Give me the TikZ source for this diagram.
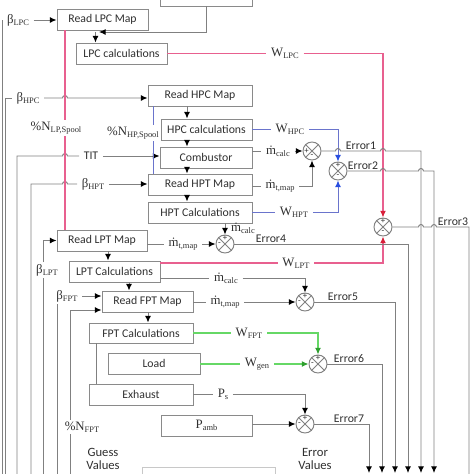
\documentclass[tikz,border=0pt]{standalone}
\usepackage{fontspec}
\setmainfont{Carlito}
\newfontfamily\symfam{Liberation Serif}
\usetikzlibrary{arrows.meta}
\definecolor{linegray}{HTML}{808080}
\definecolor{boxgray}{HTML}{8A8A8A}
\definecolor{txt}{HTML}{303030}
\definecolor{pinkl}{HTML}{E8608F}
\definecolor{reda}{HTML}{D8203A}
\definecolor{bluel}{HTML}{6A74CC}
\definecolor{bluea}{HTML}{2A4FE0}
\definecolor{greenl}{HTML}{66D866}
\definecolor{greena}{HTML}{2E9E2E}
\definecolor{faint}{HTML}{C8C8C8}
\newcommand\bxfont{\fontsize{6.7}{7.5}\selectfont}
\newcommand\symf{\symfam\fontsize{7.3}{8}\selectfont}
\newcommand\sbx[1]{\raisebox{-1.1pt}{\fontsize{4.8}{5}\selectfont #1}}
\begin{document}
\begin{tikzpicture}[x=0.02cm,y=-0.02cm,
  bx/.style 2 args={draw=boxgray, line width=0.55pt, minimum width=#1*0.02cm, minimum height=#2*0.02cm, inner sep=0pt, font=\bxfont, text=txt},
  sumj/.style={circle, draw=linegray, line width=0.55pt, fill=white, minimum size=18*0.02cm, inner sep=0pt},
  sym/.style={font=\symf, text=txt, inner xsep=2.5pt, inner ysep=1pt},
  elab/.style={font=\fontsize{6.7}{7.5}\selectfont, text=txt, inner sep=0.6pt, anchor=south},
  sgnst/.style={font=\fontsize{5}{5}\selectfont, text=txt, inner sep=0pt},
  gline/.style={draw=linegray, line width=0.55pt},
  pline/.style={draw=pinkl, line width=0.7pt},
  bline/.style={draw=bluel, line width=0.55pt},
  grline/.style={draw=greenl, line width=0.65pt},
  garr/.style={-{Latex[length=3.8pt,width=3.4pt,color=black]}},
  parr/.style={-{Latex[length=3.8pt,width=3.4pt,color=reda]}},
  barr/.style={-{Latex[length=3.8pt,width=3.4pt,color=bluea]}},
  grarr/.style={-{Latex[length=3.8pt,width=3.4pt,color=greena]}}]
\useasboundingbox (0,0) rectangle (474,474);
% ---------- boxes
\node[bx={92}{22}] (topb) at (206,-5) {};
\node[bx={91}{21}] (rlpc) at (102.5,19.5) {Read LPC Map};
\node[bx={91}{21}] (lpcc) at (121.5,53.5) {LPC calculations};
\node[bx={104}{21}] (rhpc) at (200,95.5) {Read HPC Map};
\node[bx={91}{21}] (hpcc) at (206.5,129.5) {HPC calculations};
\node[bx={92}{21}] (comb) at (206,157.5) {Combustor};
\node[bx={104}{21}] (rhpt) at (200,184.5) {Read HPT Map};
\node[bx={104}{21}] (hptc) at (200,212.5) {HPT Calculations};
\node[bx={90}{21}] (rlpt) at (102,240.5) {Read LPT Map};
\node[bx={91}{21}] (lptc) at (114.5,271.5) {LPT Calculations};
\node[bx={91}{21}] (rfpt) at (147.5,301.5) {Read FPT Map};
\node[bx={104}{20}] (fptc) at (141,333) {FPT Calculations};
\node[bx={92}{21}] (load) at (154,363.5) {Load};
\node[bx={104}{21}] (exh) at (141,394.5) {Exhaust};
\node[bx={91}{21}, font=\symf] (pamb) at (206.5,425.5) {P\sbx{amb}};
\node[draw=faint, line width=0.5pt, minimum width=133*0.02cm, minimum height=30*0.02cm, inner sep=0pt, anchor=north west] (nrbox) at (142,467) {};
% ---------- summing junctions
\node[sumj] (s1) at (312,151) {};
\node[sumj] (s2) at (338,171) {};
\node[sumj] (s3) at (383,227) {};
\node[sumj] (s4) at (225,244) {};
\node[sumj] (s5) at (305,302) {};
\node[sumj] (s6) at (318,364) {};
\node[sumj] (s7) at (305,424) {};
\foreach \s in {s1,s2,s3,s4,s5,s6,s7}
  \draw[gline] (\s.north east) -- (\s.south west) (\s.north west) -- (\s.south east);
\node[sgnst] (s1p) at ([xshift=-3.1pt]s1.center) {+};
\node[sgnst] (s1m) at ([yshift=-3.1pt]s1.center) {-};
\node[sgnst] (s2p) at ([yshift=3.1pt]s2.center) {+};
\node[sgnst] (s2m) at ([yshift=-3.1pt]s2.center) {-};
\node[sgnst] (s3p) at ([yshift=3.1pt]s3.center) {+};
\node[sgnst] (s3m) at ([yshift=-3.1pt]s3.center) {-};
\foreach \s in {s4,s5,s6,s7}{
  \node[sgnst] (\s p) at ([yshift=3.1pt]\s.center) {+};
  \node[sgnst] (\s m) at ([xshift=-3.1pt]\s.center) {-};
}
% ---------- labels
\node[sym] (blpc) at (18,20) {β\sbx{LPC}};
\node[sym] (bhpc) at (28,98) {β\sbx{HPC}};
\node[sym] (nlp) at (56,128) {\%N\sbx{LP,Spool}};
\node[sym] (nhp) at (133,133) {\%N\sbx{HP,Spool}};
\node[sym, font=\bxfont] (tit) at (91,156) {TIT};
\node[sym] (bhpt) at (93,184) {β\sbx{HPT}};
\node[sym] (blpt) at (47,270) {β\sbx{LPT}};
\node[sym] (bfpt) at (67,296) {β\sbx{FPT}};
\node[sym] (nfpt) at (82,427) {\%N\sbx{FPT}};
\node[sym] (wlpc) at (285,53.5) {W\sbx{LPC}};
\node[sym] (whpc) at (290,129.5) {W\sbx{HPC}};
\node[sym] (mc1) at (278,151) {ṁ\sbx{calc}};
\node[sym] (mt1) at (280,186) {ṁ\sbx{t,map}};
\node[sym] (whpt) at (294,212.5) {W\sbx{HPT}};
\node[sym] (mc4) at (243,228) {ṁ\sbx{calc}};
\node[sym] (mt4) at (183,244) {ṁ\sbx{t,map}};
\node[sym] (wlpt) at (296,263) {W\sbx{LPT}};
\node[sym] (mc5) at (226,278) {ṁ\sbx{calc}};
\node[sym] (mt5) at (225,302) {ṁ\sbx{t,map}};
\node[sym] (wfpt) at (249,333) {W\sbx{FPT}};
\node[sym] (wgen) at (257,364) {W\sbx{gen}};
\node[sym] (ps) at (223,394.5) {P\sbx{s}};
\node[elab] (err1) at (361,151) {Error1};
\node[elab] (err2) at (363,171) {Error2};
\node[elab] (err3) at (453,227) {Error3};
\node[elab] (err4) at (271,244) {Error4};
\node[elab] (err5) at (343,302) {Error5};
\node[elab] (err6) at (349,364) {Error6};
\node[elab] (err7) at (349,424) {Error7};
\node[font=\fontsize{7.2}{7.4}\selectfont, text=txt, align=center, inner sep=0pt] (guess) at (103,459) {Guess\\Values};
\node[font=\fontsize{7.2}{7.4}\selectfont, text=txt, align=center, inner sep=0pt] (errv) at (315,459) {Error\\Values};
% ---------- free ends
\coordinate (g1) at (2.7,480);
\coordinate (g2) at (5.7,480);
\coordinate (g3) at (17,480);
\coordinate (g4) at (31,480);
\coordinate (g5) at (43,480);
\coordinate (g6) at (57,480);
\coordinate (g7) at (70,480);
\coordinate (e7) at (369,473);
\coordinate (e6) at (382,473);
\coordinate (e5) at (395,473);
\coordinate (e4) at (408,473);
\coordinate (e1) at (421,473);
\coordinate (e2) at (434,473);
\coordinate (e3) at (469,480);
% ---------- top box to LPC calculations
\draw[gline,garr] (topb.south) -- (206,32) -- (99,32);
\draw[gline,garr] (95.5,32) -- (95.5,0 |- lpcc.north);
% ---------- guess value inputs
\draw[gline] (g1) -- (2.7,20) -- (blpc.west);
\draw[gline,garr] (blpc.east) -- (rlpc.west |- blpc.east);
\draw[gline] (g2) -- (5.7,98) -- (bhpc.west);
\draw[gline,garr] (bhpc.east) -- (62.5,98) arc[start angle=180,end angle=0,radius=1.42pt] -- (rhpc.west |- bhpc.east);
\draw[gline] (g3) -- (17,156) -- (62.5,156) arc[start angle=180,end angle=0,radius=1.42pt] -- (tit.west);
\draw[gline,garr] (tit.east) -- (comb.west |- tit.east);
\draw[gline] (g4) -- (31,184) -- (62.5,184) arc[start angle=180,end angle=0,radius=1.42pt] -- (bhpt.west);
\draw[gline,garr] (bhpt.east) -- (rhpt.west |- bhpt.east);
\draw[gline] (g5) -- (43,0 |- blpt.south);
\draw[gline,garr] (43,0 |- blpt.north) |- (rlpt.west);
\draw[gline] (g6) -- (57,0 |- bfpt.south);
\draw[gline,garr] (bfpt.east) -- (rfpt.west |- bfpt.east);
\draw[gline] (g7) -- (70,0 |- nfpt.south);
\draw[gline,garr] (70,0 |- nfpt.north) -- (70,310) -- (rfpt.west |- 70,310);
% ---------- spool speeds
\draw[pline] (65,0 |- rlpc.south) -- (65,0 |- nlp.north);
\draw[pline] (65,0 |- nlp.south) -- (65,0 |- rlpt.north);
\draw[bline] (153,0 |- rhpc.south) -- (153,0 |- nhp.north);
\draw[bline] (153,0 |- nhp.south) -- (153,0 |- rhpt.north);
% ---------- chain arrows
\foreach \a/\b in {rhpc/hpcc, hpcc/comb, comb/rhpt, rhpt/hptc}
  \draw[gline,garr] (187,0 |- \a.south) -- (187,0 |- \b.north);
\draw[gline,garr] (108,0 |- rlpt.south) -- (108,0 |- lptc.north);
\draw[gline,garr] (129,0 |- lptc.south) -- (129,0 |- rfpt.north);
\draw[gline,garr] (148,0 |- rfpt.south) -- (148,0 |- fptc.north);
\draw[gline] (96,0 |- fptc.south) -- (96,0 |- exh.north);
% ---------- signals into junctions
\draw[gline] (comb.east |- mc1.west) -- (mc1.west);
\draw[gline,garr] (mc1.east) -- (s1.west);
\draw[gline] (rhpt.east |- mt1.west) -- (mt1.west);
\draw[gline,garr] (mt1.east) -| (s1.south);
\draw[bline] (hpcc.east) -- (whpc.west);
\draw[bline,barr] (whpc.east) -| (s2.north);
\draw[bline] (hptc.east) -- (whpt.west);
\draw[bline,barr] (whpt.east) -| (s2.south);
\draw[pline] (lpcc.east) -- (wlpc.west);
\draw[pline,parr] (wlpc.east) -| (s3.north);
\draw[pline] (lptc.east |- wlpt.west) -- (wlpt.west);
\draw[pline,parr] (wlpt.east) -| (s3.south);
\draw[gline,garr] (s4.north |- hptc.south) -- (s4.north);
\draw[gline] (rlpt.east |- mt4.west) -- (mt4.west);
\draw[gline,garr] (mt4.east) -- (s4.west);
\draw[gline] (lptc.east |- mc5.west) -- (mc5.west);
\draw[gline,garr] (mc5.east) -| (s5.north);
\draw[gline] (rfpt.east |- mt5.west) -- (mt5.west);
\draw[gline,garr] (mt5.east) -- (s5.west);
\draw[grline] (fptc.east) -- (wfpt.west);
\draw[grline,grarr] (wfpt.east) -| (s6.north);
\draw[grline] (load.east |- wgen.west) -- (wgen.west);
\draw[grline,grarr] (wgen.east) -- (s6.west);
\draw[gline] (exh.east) -- (ps.west);
\draw[gline,garr] (ps.east) -| (s7.north);
\draw[gline,garr] (pamb.east |- s7.west) -- (s7.west);
% ---------- error outputs
\draw[gline,garr] (s1.east) -- (335.5,151) arc[start angle=180,end angle=0,radius=1.42pt] -- (380.5,151) arc[start angle=180,end angle=0,radius=1.42pt] -- (421,151) -- (e1);
\draw[gline,garr] (s2.east) -- (380.5,171) arc[start angle=180,end angle=0,radius=1.42pt] -- (418.5,171) arc[start angle=180,end angle=0,radius=1.42pt] -- (434,171) -- (e2);
\draw[gline] (s3.east) -- (418.5,227) arc[start angle=180,end angle=0,radius=1.42pt] -- (431.5,227) arc[start angle=180,end angle=0,radius=1.42pt] -- (469,227) -- (e3);
\draw[gline,garr] (s4.east) -- (408,244) -- (e4);
\draw[gline,garr] (s5.east) -- (395,302) -- (e5);
\draw[gline,garr] (s6.east) -- (382,364) -- (e6);
\draw[gline,garr] (s7.east) -- (369,424) -- (e7);
\end{tikzpicture}
\end{document}
